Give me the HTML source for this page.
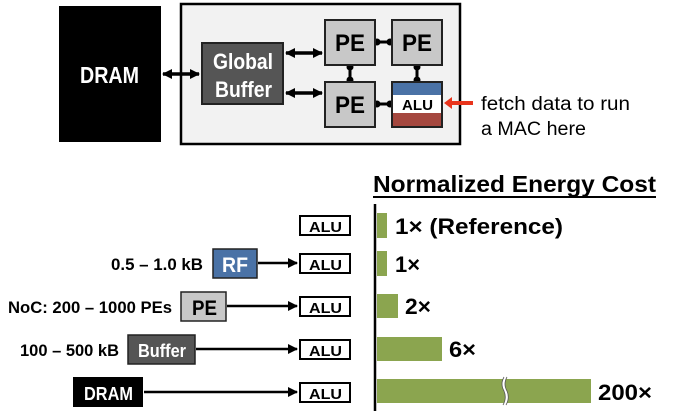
<!DOCTYPE html>
<html><head><meta charset="utf-8"><style>
html,body{margin:0;padding:0;background:#fff;}
svg{display:block;font-family:"Liberation Sans",Arial,sans-serif;}
</style></head><body>
<svg width="678" height="415" viewBox="0 0 678 415" xmlns="http://www.w3.org/2000/svg">
<defs>
<marker id="ah" markerWidth="10" markerHeight="10" refX="9" refY="5" orient="auto" markerUnits="userSpaceOnUse"><path d="M0,0 L10,5 L0,10 z" fill="#000"/></marker>
<marker id="ahs" markerWidth="10" markerHeight="10" refX="1" refY="5" orient="auto" markerUnits="userSpaceOnUse"><path d="M10,0 L0,5 L10,10 z" fill="#000"/></marker>
</defs>
<!-- top -->
<rect x="59" y="6" width="102" height="136" fill="#000"/>
<text x="80" y="83" fill="#fff" font-size="23" font-weight="bold" textLength="59" lengthAdjust="spacingAndGlyphs">DRAM</text>
<rect x="181" y="4" width="279" height="140" fill="#f2f2f2" stroke="#000" stroke-width="2.5"/>
<line x1="163" y1="74" x2="199" y2="74" stroke="#000" stroke-width="3.5" marker-start="url(#ahs)" marker-end="url(#ah)"/>
<rect x="202" y="43" width="81" height="61" fill="#555" stroke="#222" stroke-width="2"/>
<text x="213" y="69" fill="#fff" font-size="22" font-weight="bold" textLength="60" lengthAdjust="spacingAndGlyphs">Global</text>
<text x="215" y="97" fill="#fff" font-size="22" font-weight="bold" textLength="57" lengthAdjust="spacingAndGlyphs">Buffer</text>
<line x1="286" y1="53" x2="322" y2="53" stroke="#000" stroke-width="3.5" marker-start="url(#ahs)" marker-end="url(#ah)"/>
<line x1="286" y1="93" x2="322" y2="93" stroke="#000" stroke-width="3.5" marker-start="url(#ahs)" marker-end="url(#ah)"/>
<g stroke="#000" stroke-width="3">
<line x1="375" y1="42" x2="392" y2="42"/><line x1="375" y1="104" x2="392" y2="104"/>
<line x1="350" y1="65" x2="350" y2="82"/><line x1="417" y1="65" x2="417" y2="82"/>
</g>
<g fill="#000"><circle cx="377" cy="42" r="3.5"/><circle cx="390" cy="42" r="3.5"/><circle cx="377" cy="104" r="3.5"/><circle cx="390" cy="104" r="3.5"/><circle cx="350" cy="67" r="3.5"/><circle cx="350" cy="80" r="3.5"/><circle cx="417" cy="67" r="3.5"/><circle cx="417" cy="80" r="3.5"/></g>
<g fill="#c8c8c8" stroke="#222" stroke-width="2">
<rect x="325" y="20" width="50" height="45"/><rect x="392" y="20" width="50" height="45"/><rect x="325" y="82" width="50" height="45"/>
</g>
<g font-size="24" font-weight="bold" fill="#000">
<text x="335" y="51" textLength="30" lengthAdjust="spacingAndGlyphs">PE</text><text x="402" y="51" textLength="30" lengthAdjust="spacingAndGlyphs">PE</text><text x="335" y="113" textLength="30" lengthAdjust="spacingAndGlyphs">PE</text>
</g>
<rect x="392" y="82" width="50" height="13" fill="#4a72a6"/>
<rect x="392" y="95" width="50" height="18" fill="#fff"/>
<rect x="392" y="113" width="50" height="14" fill="#a5483f"/>
<rect x="392" y="82" width="50" height="45" fill="none" stroke="#222" stroke-width="2"/>
<text x="402" y="110" font-size="15" font-weight="bold" textLength="31" lengthAdjust="spacingAndGlyphs">ALU</text>
<line x1="473" y1="103" x2="450" y2="103" stroke="#e8341c" stroke-width="4"/>
<path d="M444,103 L452,97 L452,109 z" fill="#e8341c"/>
<text x="481" y="110" font-size="19" textLength="149" lengthAdjust="spacingAndGlyphs">fetch data to run</text>
<text x="481" y="135" font-size="19" textLength="105" lengthAdjust="spacingAndGlyphs">a MAC here</text>
<!-- bottom left -->
<g fill="#fff" stroke="#000" stroke-width="2">
<rect x="300" y="216" width="50" height="19"/><rect x="300" y="254" width="50" height="19"/><rect x="300" y="297" width="50" height="19"/><rect x="300" y="340" width="50" height="19"/><rect x="300" y="383" width="50" height="19"/>
</g>
<g font-size="15" font-weight="bold">
<text x="309" y="232" textLength="33" lengthAdjust="spacingAndGlyphs">ALU</text><text x="309" y="270" textLength="33" lengthAdjust="spacingAndGlyphs">ALU</text><text x="309" y="313" textLength="33" lengthAdjust="spacingAndGlyphs">ALU</text><text x="309" y="356" textLength="33" lengthAdjust="spacingAndGlyphs">ALU</text><text x="309" y="399" textLength="33" lengthAdjust="spacingAndGlyphs">ALU</text>
</g>
<g stroke="#000" stroke-width="2.5">
<line x1="258" y1="263" x2="297" y2="263" marker-end="url(#ah)"/>
<line x1="227" y1="306" x2="297" y2="306" marker-end="url(#ah)"/>
<line x1="196" y1="349" x2="297" y2="349" marker-end="url(#ah)"/>
<line x1="144" y1="392" x2="297" y2="392" marker-end="url(#ah)"/>
</g>
<rect x="213" y="249" width="44" height="29" fill="#4a72a6" stroke="#222" stroke-width="1.5"/>
<text x="222" y="272" font-size="21" font-weight="bold" fill="#fff" textLength="26" lengthAdjust="spacingAndGlyphs">RF</text>
<rect x="181" y="292" width="45" height="29" fill="#c8c8c8" stroke="#222" stroke-width="1.5"/>
<text x="192" y="315" font-size="21" font-weight="bold" textLength="25" lengthAdjust="spacingAndGlyphs">PE</text>
<rect x="128" y="335" width="67" height="29" fill="#555" stroke="#222" stroke-width="1.5"/>
<text x="138" y="357" font-size="18" font-weight="bold" fill="#fff" textLength="48" lengthAdjust="spacingAndGlyphs">Buffer</text>
<rect x="73" y="377" width="70" height="30" fill="#000"/>
<text x="84" y="400" font-size="18" font-weight="bold" fill="#fff" textLength="49" lengthAdjust="spacingAndGlyphs">DRAM</text>
<g font-size="17" font-weight="bold">
<text x="111" y="270" textLength="92" lengthAdjust="spacingAndGlyphs">0.5 – 1.0 kB</text>
<text x="8" y="313" textLength="164" lengthAdjust="spacingAndGlyphs">NoC: 200 – 1000 PEs</text>
<text x="20" y="356" textLength="99" lengthAdjust="spacingAndGlyphs">100 – 500 kB</text>
</g>
<!-- chart -->
<text x="373" y="192" font-size="23" font-weight="bold" textLength="283" lengthAdjust="spacingAndGlyphs">Normalized Energy Cost</text>
<line x1="373" y1="197" x2="656" y2="197" stroke="#000" stroke-width="2"/>
<line x1="375" y1="204" x2="375" y2="411" stroke="#000" stroke-width="2.5"/>
<g fill="#8ba54f">
<rect x="377" y="213" width="10" height="25"/><rect x="377" y="251" width="10" height="25"/><rect x="377" y="294" width="21" height="24"/><rect x="377" y="337" width="65" height="24"/><rect x="377" y="379" width="214" height="24"/>
</g>
<path d="M504,377 L507,377 Q503,384 507,391 Q510,398 506,405 L503,405 Q507,398 504,391 Q500,384 504,377z" fill="#fff"/>
<path d="M504,377 Q500,384 504,391 Q507,398 503,405 M507,377 Q503,384 507,391 Q510,398 506,405" stroke="#555" stroke-width="0.8" fill="none"/>
<g font-size="22" font-weight="bold">
<text x="395" y="234" textLength="168" lengthAdjust="spacingAndGlyphs">1× (Reference)</text>
<text x="395" y="272" textLength="25" lengthAdjust="spacingAndGlyphs">1×</text>
<text x="405" y="314" textLength="26" lengthAdjust="spacingAndGlyphs">2×</text>
<text x="449" y="357" textLength="27" lengthAdjust="spacingAndGlyphs">6×</text>
<text x="598" y="400" textLength="54" lengthAdjust="spacingAndGlyphs">200×</text>
</g>
</svg>
</body></html>
